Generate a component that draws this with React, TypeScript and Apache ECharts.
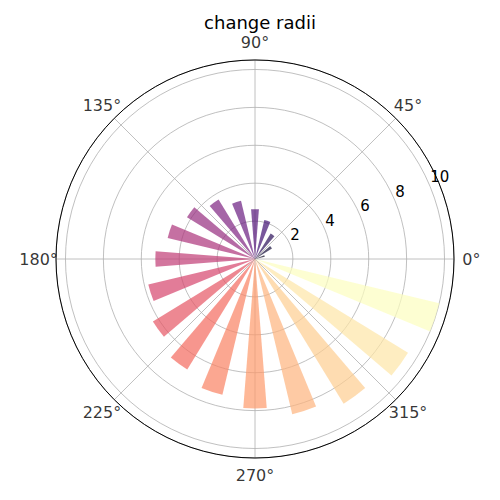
import React, { useEffect, useRef } from "react";
import * as echarts from "echarts";

const categories = [
  "0°", "18°", "36°", "54°", "72°", "90°", "108°", "126°", "144°", "162°",
  "180°", "198°", "216°", "234°", "252°", "270°", "288°", "306°", "324°", "342°",
];
const radii = [
  0, 0.53, 1.05, 1.58, 2.11, 2.63, 3.16, 3.68, 4.21, 4.74,
  5.26, 5.79, 6.32, 6.84, 7.37, 7.89, 8.42, 8.95, 9.47, 10,
];
const radialTicks = [2, 4, 6, 8, 10];
const angleTicks = [0, 45, 90, 135, 180, 225, 270, 315];
const angleTickLabels = ["0°", "45°", "90°", "135°", "180°", "225°", "270°", "315°"];

const magmaStops = [
  "#000004", "#140e36", "#3b0f70", "#641a80", "#8c2981", "#b73779",
  "#de4968", "#f7705c", "#fe9f6d", "#fecf92", "#fcfdbf",
];

function hexToRgb(h: string) {
  const n = parseInt(h.slice(1), 16);
  return [(n >> 16) & 255, (n >> 8) & 255, n & 255];
}
function magma(t: number) {
  const x = Math.max(0, Math.min(1, t)) * (magmaStops.length - 1);
  const i = Math.min(Math.floor(x), magmaStops.length - 2);
  const f = x - i;
  const a = hexToRgb(magmaStops[i]);
  const b = hexToRgb(magmaStops[i + 1]);
  const c = a.map((v, k) => Math.round(v + (b[k] - v) * f));
  return `rgb(${c[0]},${c[1]},${c[2]})`;
}

const FONT = "DejaVu Sans";
const CENTER = [255, 259];
const RADIUS = 199;
const RMAX = 10.5;
const LABEL_R = 11.42;

export default function App() {
  const ref = useRef<HTMLDivElement>(null);
  useEffect(() => {
    if (!ref.current) return;
    const chart = echarts.init(ref.current, undefined, { renderer: "svg" });
    chart.setOption({
      animation: false,
      backgroundColor: "#fff",
      textStyle: { fontFamily: FONT },
      title: {
        text: "change radii",
        left: 255,
        textAlign: "center",
        top: 8,
        textStyle: { fontFamily: FONT, fontSize: 18, fontWeight: "normal", color: "#000" },
      },
      polar: [
        { center: CENTER, radius: RADIUS },
        { center: CENTER, radius: RADIUS },
        { center: CENTER, radius: RADIUS },
      ],
      angleAxis: [
        {
          polarIndex: 0,
          type: "value",
          min: 0,
          max: 360,
          interval: 45,
          startAngle: 0,
          clockwise: false,
          axisLine: { lineStyle: { color: "#000", width: 1 } },
          axisTick: { show: false },
          axisLabel: { show: false },
          splitLine: { lineStyle: { color: "#b0b0b0", width: 0.8 } },
        },
        {
          polarIndex: 1,
          type: "category",
          data: categories,
          startAngle: -9,
          clockwise: false,
          show: false,
        },
        {
          polarIndex: 2,
          type: "value",
          min: 0,
          max: 360,
          startAngle: 22.5,
          clockwise: false,
          show: false,
        },
      ],
      radiusAxis: [
        {
          polarIndex: 0,
          type: "value",
          min: 0,
          max: RMAX,
          interval: 2,
          axisLine: { show: false },
          axisTick: { show: false },
          axisLabel: { show: false },
          splitLine: { lineStyle: { color: "#b0b0b0", width: 0.8 } },
        },
        {
          polarIndex: 1,
          type: "value",
          min: 0,
          max: RMAX,
          show: false,
        },
        {
          polarIndex: 2,
          type: "value",
          min: 0,
          max: RMAX,
          interval: 2,
          axisLine: { show: false },
          axisTick: { show: false },
          splitLine: { show: false },
          axisLabel: {
            formatter: (v: number) => (radialTicks.includes(v) ? String(v) : ""),
            margin: 10,
            align: "left",
            verticalAlign: "middle",
            padding: [0, 0, 0, 4],
            fontSize: 15,
            color: "#000",
            fontFamily: FONT,
          },
        },
      ],
      series: [
        {
          type: "bar",
          coordinateSystem: "polar",
          polarIndex: 1,
          barWidth: "50%",
          data: radii.map((v) => ({
            value: v,
            itemStyle: { color: magma(v / 10), opacity: 0.7 },
          })),
        },
        {
          type: "scatter",
          coordinateSystem: "polar",
          polarIndex: 0,
          clip: false,
          silent: true,
          symbolSize: 1,
          itemStyle: { color: "transparent" },
          label: {
            show: true,
            position: "inside",
            formatter: (p: any) => p.name,
            fontSize: 16,
            color: "#000",
            fontFamily: FONT,
          },
          data: angleTicks.map((a, i) => ({
            name: angleTickLabels[i],
            value: [LABEL_R, a],
          })),
        },
      ],
    });
    return () => chart.dispose();
  }, []);
  return (
    <div
      ref={ref}
      style={{ position: "absolute", left: 0, top: 0, width: 500, height: 500 }}
    />
  );
}
